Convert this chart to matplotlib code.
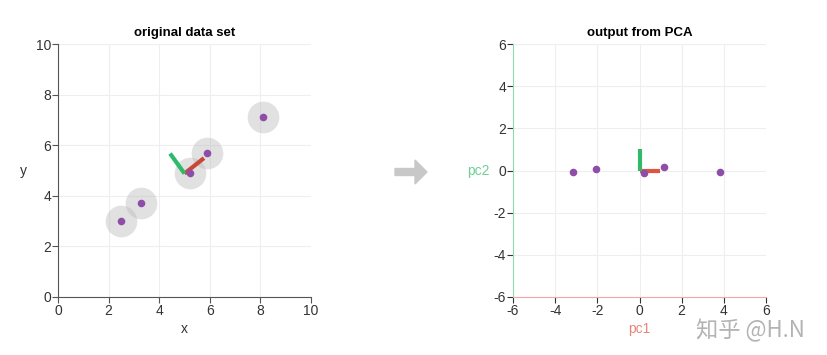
import numpy as np
import matplotlib.pyplot as plt

plt.rcParams['font.family'] = ['Liberation Sans', 'DejaVu Sans']
plt.rcParams['axes.unicode_minus'] = False

# original data (left panel)
x_orig = [2.5, 3.3, 5.2, 5.9, 8.1]
y_orig = [3.0, 3.7, 4.9, 5.7, 7.1]
# principal component directions drawn from the mean
pc1_dir = [0.77, 0.61]
pc2_dir = [-0.57, 0.79]

# projected data (right panel)
pc1_vals = [-3.15, -2.05, 0.2, 1.15, 3.8]
pc2_vals = [-0.05, 0.05, -0.1, 0.15, -0.05]

purple = '#8e4ea8'
green = '#2fb96a'
red = '#c9473a'
grid_c = '#eeeeee'
axis_c = '#555555'

fig = plt.figure(figsize=(8.27, 3.55), dpi=100)
ax1 = fig.add_axes([58/827, 58/355, 253/827, 253/355])
ax2 = fig.add_axes([513/827, 58/355, 253/827, 253/355])

# --- left: original data ---
ax1.scatter(x_orig, y_orig, s=520, color='#bdbdbd', alpha=0.45, linewidths=0, zorder=2)
ax1.scatter(x_orig, y_orig, s=30, color=purple, linewidths=0, zorder=4)
mx, my = np.mean(x_orig), np.mean(y_orig)
ax1.plot([mx, mx + pc1_dir[0]], [my, my + pc1_dir[1]], color=red, lw=3, zorder=3, solid_capstyle='butt')
ax1.plot([mx, mx + pc2_dir[0]], [my, my + pc2_dir[1]], color=green, lw=3, zorder=3, solid_capstyle='butt')
ax1.set_xlim(0, 10)
ax1.set_ylim(0, 10)
ax1.set_xticks(range(0, 11, 2))
ax1.set_yticks(range(0, 11, 2))
ax1.set_title('original data set', fontsize=9.5, fontweight='bold', pad=6)
ax1.set_xlabel('x', fontsize=10, color='#333333', labelpad=3)
ax1.set_ylabel('y', fontsize=10, color='#333333', rotation=0, labelpad=9, va='center')
for s in ['top', 'right']:
    ax1.spines[s].set_visible(False)
for s in ['left', 'bottom']:
    ax1.spines[s].set_color(axis_c)

# --- right: PCA output ---
ax2.scatter(pc1_vals, pc2_vals, s=30, color=purple, linewidths=0, zorder=4)
ax2.plot([0, 0.95], [0, 0], color='#e0533f', lw=3, zorder=3, solid_capstyle='butt')
ax2.plot([0, 0], [0, 1.0], color=green, lw=3, zorder=3, solid_capstyle='butt')
ax2.set_xlim(-6, 6)
ax2.set_ylim(-6, 6)
ax2.set_xticks(range(-6, 7, 2))
ax2.set_yticks(range(-6, 7, 2))
ax2.set_title('output from PCA', fontsize=9.5, fontweight='bold', pad=6)
ax2.set_xlabel('pc1', fontsize=10, color='#e8867a', labelpad=3)
ax2.set_ylabel('pc2', fontsize=10, color='#6fcf97', rotation=0, labelpad=3, va='center', ha='right')
for s in ['top', 'right']:
    ax2.spines[s].set_visible(False)
ax2.spines['left'].set_color('#8fdcae')
ax2.spines['bottom'].set_color('#f2a7a0')

for ax in (ax1, ax2):
    ax.grid(True, color=grid_c, lw=0.8, zorder=0)
    ax.set_axisbelow(True)
    ax.tick_params(direction='out', length=4, width=0.8, labelsize=10,
                   colors='#333333', pad=1)
ax1.tick_params(color=axis_c)

# arrow between panels
fig.patches.append(plt.matplotlib.patches.FancyArrow(
    395/827, 1 - 172/355, 32/827, 0, width=7/355, head_width=24/355,
    head_length=12/827, length_includes_head=True, color='#c8c8c8',
    transform=fig.transFigure, figure=fig))

# watermark
fig.text(805/827, 1 - 331/355, '知乎 @H.N', fontsize=16, color='#9a9a9a',
         ha='right', va='center', family=['Noto Sans CJK SC', 'DejaVu Sans'], alpha=0.75)

fig.savefig('out.png', dpi=100)
